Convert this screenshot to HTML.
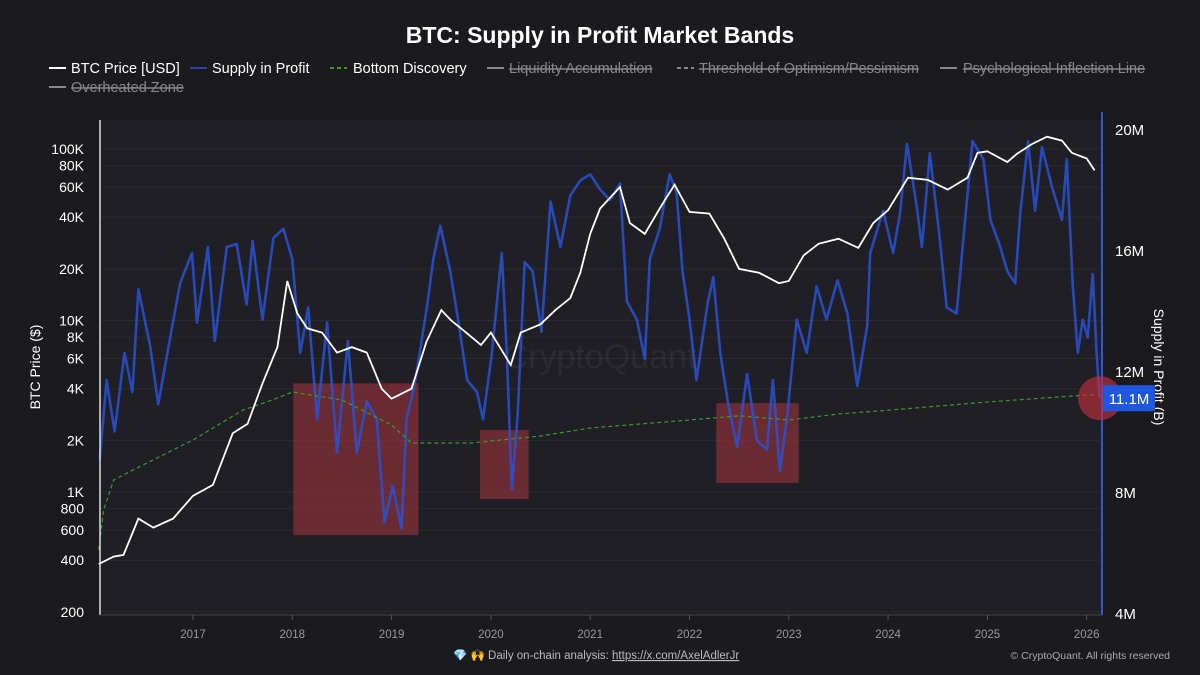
<!DOCTYPE html>
<html><head><meta charset="utf-8"><style>
html,body{margin:0;padding:0;background:#1a1a1f;width:1200px;height:675px;overflow:hidden;font-family:"Liberation Sans",sans-serif;}
</style></head><body>
<svg id="chart" width="1200" height="675" xmlns="http://www.w3.org/2000/svg" style="font-family:'Liberation Sans',sans-serif">
<rect x="0" y="0" width="1200" height="675" fill="#1a1a1f"/>
<text x="600" y="43" text-anchor="middle" fill="#fff" font-size="23" font-weight="bold">BTC: Supply in Profit Market Bands</text>
<g font-size="14.5">
 <g><line x1="49" y1="68" x2="66" y2="68" stroke="#fff" stroke-width="2"/><text x="71" y="73" fill="#fff">BTC Price [USD]</text></g>
 <g><line x1="190" y1="68" x2="207" y2="68" stroke="#2545a8" stroke-width="2"/><text x="212" y="73" fill="#fff">Supply in Profit</text></g>
 <g><line x1="330" y1="68" x2="347" y2="68" stroke="#3a9a2a" stroke-width="2" stroke-dasharray="4,3"/><text x="353" y="73" fill="#fff">Bottom Discovery</text></g>
 <g><line x1="487" y1="68" x2="504" y2="68" stroke="#888" stroke-width="2"/><text x="509" y="73" fill="#888" text-decoration="line-through">Liquidity Accumulation</text></g>
 <g><line x1="677" y1="68" x2="694" y2="68" stroke="#888" stroke-width="2" stroke-dasharray="4,3"/><text x="699" y="73" fill="#888" text-decoration="line-through">Threshold of Optimism/Pessimism</text></g>
 <g><line x1="940" y1="68" x2="957" y2="68" stroke="#888" stroke-width="2"/><text x="963" y="73" fill="#888" text-decoration="line-through">Psychological Inflection Line</text></g>
 <g><line x1="49" y1="87" x2="66" y2="87" stroke="#888" stroke-width="2"/><text x="71" y="92" fill="#888" text-decoration="line-through">Overheated Zone</text></g>
</g>
<rect x="100" y="120" width="1002" height="495" fill="#1f1f25"/>
<g id="grid"></g>
<text x="600" y="368" text-anchor="middle" fill="#ffffff" fill-opacity="0.05" font-size="34">CryptoQuant</text>
<g id="boxes"></g>
<g id="series"></g>
<line x1="100" y1="120" x2="100" y2="615" stroke="#ddd" stroke-width="1.5"/>
<line x1="1102" y1="112" x2="1102" y2="615" stroke="#2f55d8" stroke-width="2"/>
<line x1="100" y1="615" x2="1102" y2="615" stroke="#444" stroke-width="1"/>
<g id="axes"></g>
<text transform="translate(40,367) rotate(-90)" text-anchor="middle" fill="#fff" font-size="14">BTC Price ($)</text>
<text transform="translate(1154,367) rotate(90)" text-anchor="middle" fill="#fff" font-size="14">Supply in Profit (B)</text>
<g id="marker"></g>
<text x="453" y="659" fill="#bbb" font-size="11.5">💎 🙌 Daily on-chain analysis: <tspan text-decoration="underline">https://x.com/AxelAdlerJr</tspan></text>
<text x="1170" y="659" text-anchor="end" fill="#aaa" font-size="10.5">© CryptoQuant. All rights reserved</text>
</svg>
<script>
const priceDates=[2016.05,2016.2,2016.3,2016.45,2016.6,2016.8,2017.0,2017.2,2017.4,2017.55,2017.7,2017.85,2017.95,2018.05,2018.15,2018.3,2018.45,2018.6,2018.75,2018.9,2019.0,2019.2,2019.35,2019.5,2019.6,2019.75,2019.9,2020.0,2020.2,2020.3,2020.5,2020.65,2020.8,2020.9,2021.0,2021.1,2021.3,2021.4,2021.55,2021.7,2021.85,2022.0,2022.2,2022.35,2022.5,2022.7,2022.9,2023.0,2023.15,2023.3,2023.5,2023.7,2023.85,2024.0,2024.2,2024.4,2024.6,2024.8,2024.9,2025.0,2025.2,2025.3,2025.45,2025.6,2025.75,2025.85,2026.0,2026.08];
const priceValues=[380,420,430,700,620,700,950,1100,2200,2500,4300,7000,17000,11000,9000,8500,6500,7000,6500,4000,3500,4000,7500,11500,10000,8500,7200,8500,5500,8500,9500,11500,13500,19000,32000,45000,60000,37000,32000,45000,62000,43000,42000,30000,20000,19000,16500,17000,24000,28000,30000,26500,37000,44000,68000,66000,58000,68000,95000,97000,84000,94000,107000,118000,112000,95000,88000,75000];
const supplyDates=[2016.06,2016.13,2016.21,2016.31,2016.39,2016.45,2016.57,2016.65,2016.77,2016.87,2016.99,2017.04,2017.15,2017.22,2017.34,2017.44,2017.54,2017.6,2017.7,2017.81,2017.91,2018.0,2018.08,2018.16,2018.25,2018.35,2018.45,2018.56,2018.65,2018.75,2018.85,2018.93,2019.01,2019.1,2019.15,2019.24,2019.36,2019.42,2019.49,2019.59,2019.67,2019.76,2019.86,2019.92,2020.01,2020.11,2020.16,2020.21,2020.27,2020.34,2020.42,2020.51,2020.6,2020.7,2020.8,2020.9,2021.0,2021.1,2021.2,2021.3,2021.37,2021.47,2021.55,2021.6,2021.7,2021.8,2021.87,2021.93,2022.0,2022.07,2022.18,2022.24,2022.31,2022.39,2022.48,2022.58,2022.68,2022.78,2022.84,2022.91,2022.98,2023.08,2023.18,2023.28,2023.38,2023.49,2023.59,2023.69,2023.79,2023.82,2023.95,2024.05,2024.12,2024.19,2024.29,2024.34,2024.42,2024.52,2024.59,2024.69,2024.75,2024.85,2024.96,2025.03,2025.13,2025.2,2025.28,2025.33,2025.41,2025.48,2025.55,2025.65,2025.75,2025.8,2025.86,2025.91,2025.96,2026.01,2026.06,2026.1,2026.13];
const supplyValues=[9.06,11.7,10.0,12.6,11.3,14.7,12.8,10.9,13.1,14.9,15.9,13.6,16.1,13.0,16.1,16.2,14.2,16.3,13.7,16.4,16.7,15.7,12.6,14.1,10.4,13.6,9.3,13.0,9.3,11.0,10.4,7.0,8.2,6.8,10.4,11.7,14.2,15.7,16.8,15.3,13.7,11.7,11.3,10.4,12.6,15.9,12.6,8.1,10.6,15.6,15.3,13.3,17.6,16.1,17.8,18.3,18.5,18.0,17.65,18.2,14.3,13.7,12.4,15.7,16.7,18.5,17.9,15.3,13.7,11.7,14.2,15.1,12.6,10.9,9.5,11.9,9.7,9.4,11.7,8.7,10.4,13.7,12.6,14.8,13.7,15.0,13.9,11.5,13.5,15.9,17.3,15.9,17.2,19.5,17.4,16.1,19.2,16.4,14.1,13.9,16.1,19.6,19.0,17.0,16.1,15.3,14.9,17.2,19.6,17.3,19.4,18.1,17.0,19.0,14.8,12.6,13.7,13.1,15.2,12.6,11.1];
const bottomDates=[2016.05,2016.1,2016.2,2016.5,2017.0,2017.5,2017.8,2018.0,2018.5,2019.0,2019.2,2019.8,2020.5,2021.0,2022.0,2022.5,2023.0,2023.5,2024.0,2025.0,2026.0,2026.1];
const bottomValues=[460,785,1175,1440,2010,3000,3440,3830,3440,2460,1930,1930,2120,2360,2630,2780,2630,2850,3000,3350,3680,3700];
const zoneStart=[2018.01,2019.89,2022.27];
const zoneEnd=[2019.27,2020.38,2023.1];
const zoneHigh=[4300,2300,3300];
const zoneLow=[560,910,1130];
const priceTicks=[200,400,600,800,1000,2000,4000,6000,8000,10000,20000,40000,60000,80000,100000];
const priceTickLabels=["200","400","600","800","1K","2K","4K","6K","8K","10K","20K","40K","60K","80K","100K"];
const supplyTicks=[4,8,12,16,20];
const yearTicks=[2017,2018,2019,2020,2021,2022,2023,2024,2025,2026];
const lastSupply=11.1;

const X=t=>193+(t-2017)*99.3;
const YP=v=>492-171.5*Math.log10(v/1000);
const YS=m=>613-(m-4)*30.25;
const NS="http://www.w3.org/2000/svg";
function mk(tag,attrs,parent){const e=document.createElementNS(NS,tag);for(const k in attrs)e.setAttribute(k,attrs[k]);parent.appendChild(e);return e;}
const grid=document.getElementById('grid'),axes=document.getElementById('axes'),series=document.getElementById('series'),boxes=document.getElementById('boxes'),marker=document.getElementById('marker');
priceTicks.forEach((v,i)=>{
 const g=mk('line',{x1:100,x2:1102,y1:YP(v),y2:YP(v),stroke:'#2a2a31','stroke-width':1},grid);
 
 
 const t=mk('text',{x:84,y:YP(v)+5,'text-anchor':'end',fill:'#fff','font-size':14},axes);
 t.textContent=priceTickLabels[i];
 
 
});
supplyTicks.forEach(m=>{
 const t=mk('text',{x:1115,y:YS(m)+6,fill:'#fff','font-size':15},axes);
 t.textContent=m+'M';
 
 
});
yearTicks.forEach(yr=>{
 const t=mk('text',{x:X(yr),y:638,'text-anchor':'middle',fill:'#999','font-size':11.5},axes);
 t.textContent=yr;
 
 
 const l=mk('line',{x1:X(yr),x2:X(yr),y1:615,y2:620,stroke:'#555'},axes);
 
 
});
zoneStart.forEach((s,i)=>{
 const r=mk('rect',{x:X(s),y:YP(zoneHigh[i]),width:X(zoneEnd[i])-X(s),height:YP(zoneLow[i])-YP(zoneHigh[i]),fill:'#a8343f','fill-opacity':0.55},boxes);
 
 
});
function path(ds,vs,yf){return ds.map((d,i)=>(i?'L':'M')+X(d).toFixed(1)+','+yf(vs[i]).toFixed(1)).join('');}
const sp=mk('path',{d:path(supplyDates,supplyValues,YS),fill:'none',stroke:'#2a52d4','stroke-width':2.6,'stroke-opacity':0.85,'stroke-linejoin':'round'},series);


const bp=mk('path',{d:path(bottomDates,bottomValues,YP),fill:'none',stroke:'#3a9a2a','stroke-width':1.2,'stroke-dasharray':'4,3'},series);


const pp=mk('path',{d:path(priceDates,priceValues,YP),fill:'none',stroke:'#fff','stroke-width':1.8},series);


const c=mk('circle',{cx:1100,cy:YS(lastSupply),r:22,fill:'#c0303c','fill-opacity':0.65},marker);


const lb=mk('rect',{x:1103,y:YS(lastSupply)-13,width:52,height:26,fill:'#1f57e0'},marker);


const lt=mk('text',{x:1129,y:YS(lastSupply)+6,'text-anchor':'middle',fill:'#fff','font-size':15},marker);
lt.textContent=lastSupply+'M';


</script>
</body></html>
